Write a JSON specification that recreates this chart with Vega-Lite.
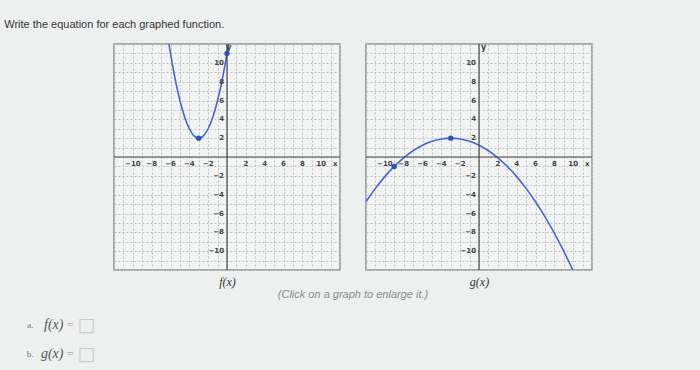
{
  "$schema": "https://vega.github.io/schema/vega-lite/v6.json",
  "background": "#edf0ef",
  "padding": {"left": 4, "top": 18, "right": 110, "bottom": 12},
  "title": {"text": "Write the equation for each graphed function.", "anchor": "start", "dx": -22, "offset": 13, "fontSize": 11, "fontWeight": "normal", "color": "#333333", "font": "Liberation Sans"},
  "config": {
    "view": {"stroke": "#8e9090", "strokeWidth": 1.5, "fill": "#f2f4f3"},
    "text": {"font": "DejaVu Sans"}
  },
  "datasets": {
    "fcurve": [
      {"x": -6.16, "y": 12}, {"x": -6, "y": 11}, {"x": -5.5, "y": 8.25}, {"x": -5, "y": 6}, {"x": -4.5, "y": 4.25},
      {"x": -4, "y": 3}, {"x": -3.5, "y": 2.25}, {"x": -3, "y": 2}, {"x": -2.5, "y": 2.25}, {"x": -2, "y": 3},
      {"x": -1.5, "y": 4.25}, {"x": -1, "y": 6}, {"x": -0.5, "y": 8.25}, {"x": 0, "y": 11}, {"x": 0.16, "y": 12}
    ],
    "gcurve": [
      {"x": -12, "y": -4.75}, {"x": -11, "y": -3.333}, {"x": -10, "y": -2.083}, {"x": -9, "y": -1}, {"x": -8, "y": -0.083},
      {"x": -7, "y": 0.667}, {"x": -6, "y": 1.25}, {"x": -5, "y": 1.667}, {"x": -4, "y": 1.917}, {"x": -3, "y": 2},
      {"x": -2, "y": 1.917}, {"x": -1, "y": 1.667}, {"x": 0, "y": 1.25}, {"x": 1, "y": 0.667}, {"x": 2, "y": -0.083},
      {"x": 3, "y": -1}, {"x": 4, "y": -2.083}, {"x": 5, "y": -3.333}, {"x": 6, "y": -4.75}, {"x": 7, "y": -6.333},
      {"x": 8, "y": -8.083}, {"x": 9, "y": -10}, {"x": 9.96, "y": -12}
    ],
    "fpts": [{"x": -3, "y": 2}, {"x": 0, "y": 11}],
    "gpts": [{"x": -3, "y": 2}, {"x": -9, "y": -1}],
    "ticks": [{"v": -10}, {"v": -8}, {"v": -6}, {"v": -4}, {"v": -2}, {"v": 2}, {"v": 4}, {"v": 6}, {"v": 8}, {"v": 10}],
    "one": [{"k": 1}],
    "prompts": [
      {"row": "a", "letter": "a.", "fn": "f(x)"},
      {"row": "b", "letter": "b.", "fn": "g(x)"}
    ]
  },
  "spacing": 10,
  "vconcat": [
    {
      "spacing": 22,
      "title": {"text": "(Click on a graph to enlarge it.)", "orient": "bottom", "anchor": "middle", "offset": 1, "fontSize": 11, "fontStyle": "italic", "fontWeight": "normal", "color": "#8a8d8d", "font": "Liberation Sans"},
      "hconcat": [
        {
          "width": 226, "height": 226,
          "layer": [
            {
              "data": {"name": "fcurve"},
              "mark": {"type": "line", "color": "#4668cc", "strokeWidth": 1.6, "interpolate": "monotone", "clip": true},
              "encoding": {
                "x": {"field": "x", "type": "quantitative", "scale": {"domain": [-12, 12], "nice": false},
                  "axis": {"values": [-12,-11,-10,-9,-8,-7,-6,-5,-4,-3,-2,-1,0,1,2,3,4,5,6,7,8,9,10,11,12], "tickCount": 25, "grid": true, "gridDash": [2, 2], "gridColor": "#bdc2c1", "gridWidth": 1, "labels": false, "ticks": false, "domain": false,
                    "title": "f(x)", "titleFont": "Liberation Serif", "titleFontStyle": "italic", "titleFontWeight": "normal", "titleFontSize": 12, "titleColor": "#333333", "titlePadding": 6}},
                "y": {"field": "y", "type": "quantitative", "scale": {"domain": [-12, 12], "nice": false},
                  "axis": {"values": [-12,-11,-10,-9,-8,-7,-6,-5,-4,-3,-2,-1,0,1,2,3,4,5,6,7,8,9,10,11,12], "tickCount": 25, "grid": true, "gridDash": [2, 2], "gridColor": "#bdc2c1", "gridWidth": 1, "labels": false, "ticks": false, "domain": false, "title": null}}
              }
            },
            {"data": {"name": "one"}, "mark": {"type": "rule", "color": "#444444", "strokeWidth": 1.2}, "encoding": {"x": {"datum": 0}}},
            {"data": {"name": "one"}, "mark": {"type": "rule", "color": "#444444", "strokeWidth": 1.2}, "encoding": {"y": {"datum": 0}}},
            {
              "data": {"name": "ticks"},
              "mark": {"type": "text", "fontSize": 7, "fontWeight": "bold", "color": "#444444", "baseline": "top", "dy": 3},
              "encoding": {"x": {"field": "v", "type": "quantitative"}, "y": {"datum": 0}, "text": {"field": "v", "type": "quantitative"}}
            },
            {
              "data": {"name": "ticks"},
              "mark": {"type": "text", "fontSize": 7, "fontWeight": "bold", "color": "#444444", "align": "right", "baseline": "middle", "dx": -3},
              "encoding": {"x": {"datum": 0}, "y": {"field": "v", "type": "quantitative"}, "text": {"field": "v", "type": "quantitative"}}
            },
            {"data": {"name": "one"}, "mark": {"type": "text", "fontSize": 7, "fontWeight": "bold", "color": "#444444", "baseline": "top", "dy": 3}, "encoding": {"x": {"datum": 11.5}, "y": {"datum": 0}, "text": {"value": "x"}}},
            {"data": {"name": "one"}, "mark": {"type": "text", "fontSize": 8, "fontWeight": "bold", "color": "#444444", "baseline": "middle"}, "encoding": {"x": {"datum": 0.2}, "y": {"datum": 11.6}, "text": {"value": "y"}}},
            {
              "data": {"name": "fpts"},
              "mark": {"type": "circle", "color": "#2f50b5", "size": 28, "opacity": 1},
              "encoding": {"x": {"field": "x", "type": "quantitative"}, "y": {"field": "y", "type": "quantitative"}}
            }
          ]
        },
        {
          "width": 226, "height": 226,
          "layer": [
            {
              "data": {"name": "gcurve"},
              "mark": {"type": "line", "color": "#4668cc", "strokeWidth": 1.6, "interpolate": "monotone", "clip": true},
              "encoding": {
                "x": {"field": "x", "type": "quantitative", "scale": {"domain": [-12, 12], "nice": false},
                  "axis": {"values": [-12,-11,-10,-9,-8,-7,-6,-5,-4,-3,-2,-1,0,1,2,3,4,5,6,7,8,9,10,11,12], "tickCount": 25, "grid": true, "gridDash": [2, 2], "gridColor": "#bdc2c1", "gridWidth": 1, "labels": false, "ticks": false, "domain": false,
                    "title": "g(x)", "titleFont": "Liberation Serif", "titleFontStyle": "italic", "titleFontWeight": "normal", "titleFontSize": 12, "titleColor": "#333333", "titlePadding": 6}},
                "y": {"field": "y", "type": "quantitative", "scale": {"domain": [-12, 12], "nice": false},
                  "axis": {"values": [-12,-11,-10,-9,-8,-7,-6,-5,-4,-3,-2,-1,0,1,2,3,4,5,6,7,8,9,10,11,12], "tickCount": 25, "grid": true, "gridDash": [2, 2], "gridColor": "#bdc2c1", "gridWidth": 1, "labels": false, "ticks": false, "domain": false, "title": null}}
              }
            },
            {"data": {"name": "one"}, "mark": {"type": "rule", "color": "#444444", "strokeWidth": 1.2}, "encoding": {"x": {"datum": 0}}},
            {"data": {"name": "one"}, "mark": {"type": "rule", "color": "#444444", "strokeWidth": 1.2}, "encoding": {"y": {"datum": 0}}},
            {
              "data": {"name": "ticks"},
              "mark": {"type": "text", "fontSize": 7, "fontWeight": "bold", "color": "#444444", "baseline": "top", "dy": 3},
              "encoding": {"x": {"field": "v", "type": "quantitative"}, "y": {"datum": 0}, "text": {"field": "v", "type": "quantitative"}}
            },
            {
              "data": {"name": "ticks"},
              "mark": {"type": "text", "fontSize": 7, "fontWeight": "bold", "color": "#444444", "align": "right", "baseline": "middle", "dx": -3},
              "encoding": {"x": {"datum": 0}, "y": {"field": "v", "type": "quantitative"}, "text": {"field": "v", "type": "quantitative"}}
            },
            {"data": {"name": "one"}, "mark": {"type": "text", "fontSize": 7, "fontWeight": "bold", "color": "#444444", "baseline": "top", "dy": 3}, "encoding": {"x": {"datum": 11.5}, "y": {"datum": 0}, "text": {"value": "x"}}},
            {"data": {"name": "one"}, "mark": {"type": "text", "fontSize": 8, "fontWeight": "bold", "color": "#444444", "baseline": "middle"}, "encoding": {"x": {"datum": 0.5}, "y": {"datum": 11.6}, "text": {"value": "y"}}},
            {
              "data": {"name": "gpts"},
              "mark": {"type": "circle", "color": "#2f50b5", "size": 28, "opacity": 1},
              "encoding": {"x": {"field": "x", "type": "quantitative"}, "y": {"field": "y", "type": "quantitative"}}
            }
          ]
        }
      ]
    },
    {
      "width": 4, "height": 58,
      "view": {"stroke": null, "fill": null},
      "data": {"name": "prompts"},
      "resolve": {"axis": {"y": "independent"}},
      "layer": [
        {
          "mark": {"type": "point", "opacity": 0},
          "encoding": {
            "x": {"datum": 0, "type": "quantitative", "scale": {"domain": [0, 1]}, "axis": null},
            "y": {"field": "row", "type": "nominal", "scale": {"type": "point", "padding": 0.5},
            "axis": {"orient": "left", "title": null, "domain": false, "ticks": false, "tickSize": 0, "labelPadding": 0, "offset": 19,
              "labelExpr": "'\u25a1'", "labelFont": "DejaVu Sans", "labelFontSize": 19, "labelColor": "#c9cccc", "labelBaseline": "middle"}}}
        },
        {
          "mark": {"type": "point", "opacity": 0},
          "encoding": {
            "x": {"datum": 0, "type": "quantitative"},
            "y": {"field": "row", "type": "nominal",
            "axis": {"orient": "left", "title": null, "domain": false, "ticks": false, "tickSize": 0, "labelPadding": 0, "offset": 41,
              "labelExpr": "'='", "labelFont": "Liberation Serif", "labelFontSize": 12, "labelColor": "#a9adad", "labelBaseline": "middle"}}}
        },
        {
          "mark": {"type": "point", "opacity": 0},
          "encoding": {
            "x": {"datum": 0, "type": "quantitative"},
            "y": {"field": "row", "type": "nominal",
            "axis": {"orient": "left", "title": null, "domain": false, "ticks": false, "tickSize": 0, "labelPadding": 0, "offset": 51,
              "labelExpr": "datum.value == 'a' ? 'f(x)' : 'g(x)'", "labelFont": "Liberation Serif", "labelFontStyle": "italic", "labelFontSize": 14, "labelColor": "#555555", "labelBaseline": "middle"}}}
        },
        {
          "mark": {"type": "point", "opacity": 0},
          "encoding": {
            "x": {"datum": 0, "type": "quantitative"},
            "y": {"field": "row", "type": "nominal",
            "axis": {"orient": "left", "title": null, "domain": false, "ticks": false, "tickSize": 0, "labelPadding": 0, "offset": 81,
              "labelExpr": "datum.value + '.'", "labelFont": "Liberation Serif", "labelFontSize": 9, "labelColor": "#777777", "labelBaseline": "middle"}}}
        }
      ]
    }
  ]
}
